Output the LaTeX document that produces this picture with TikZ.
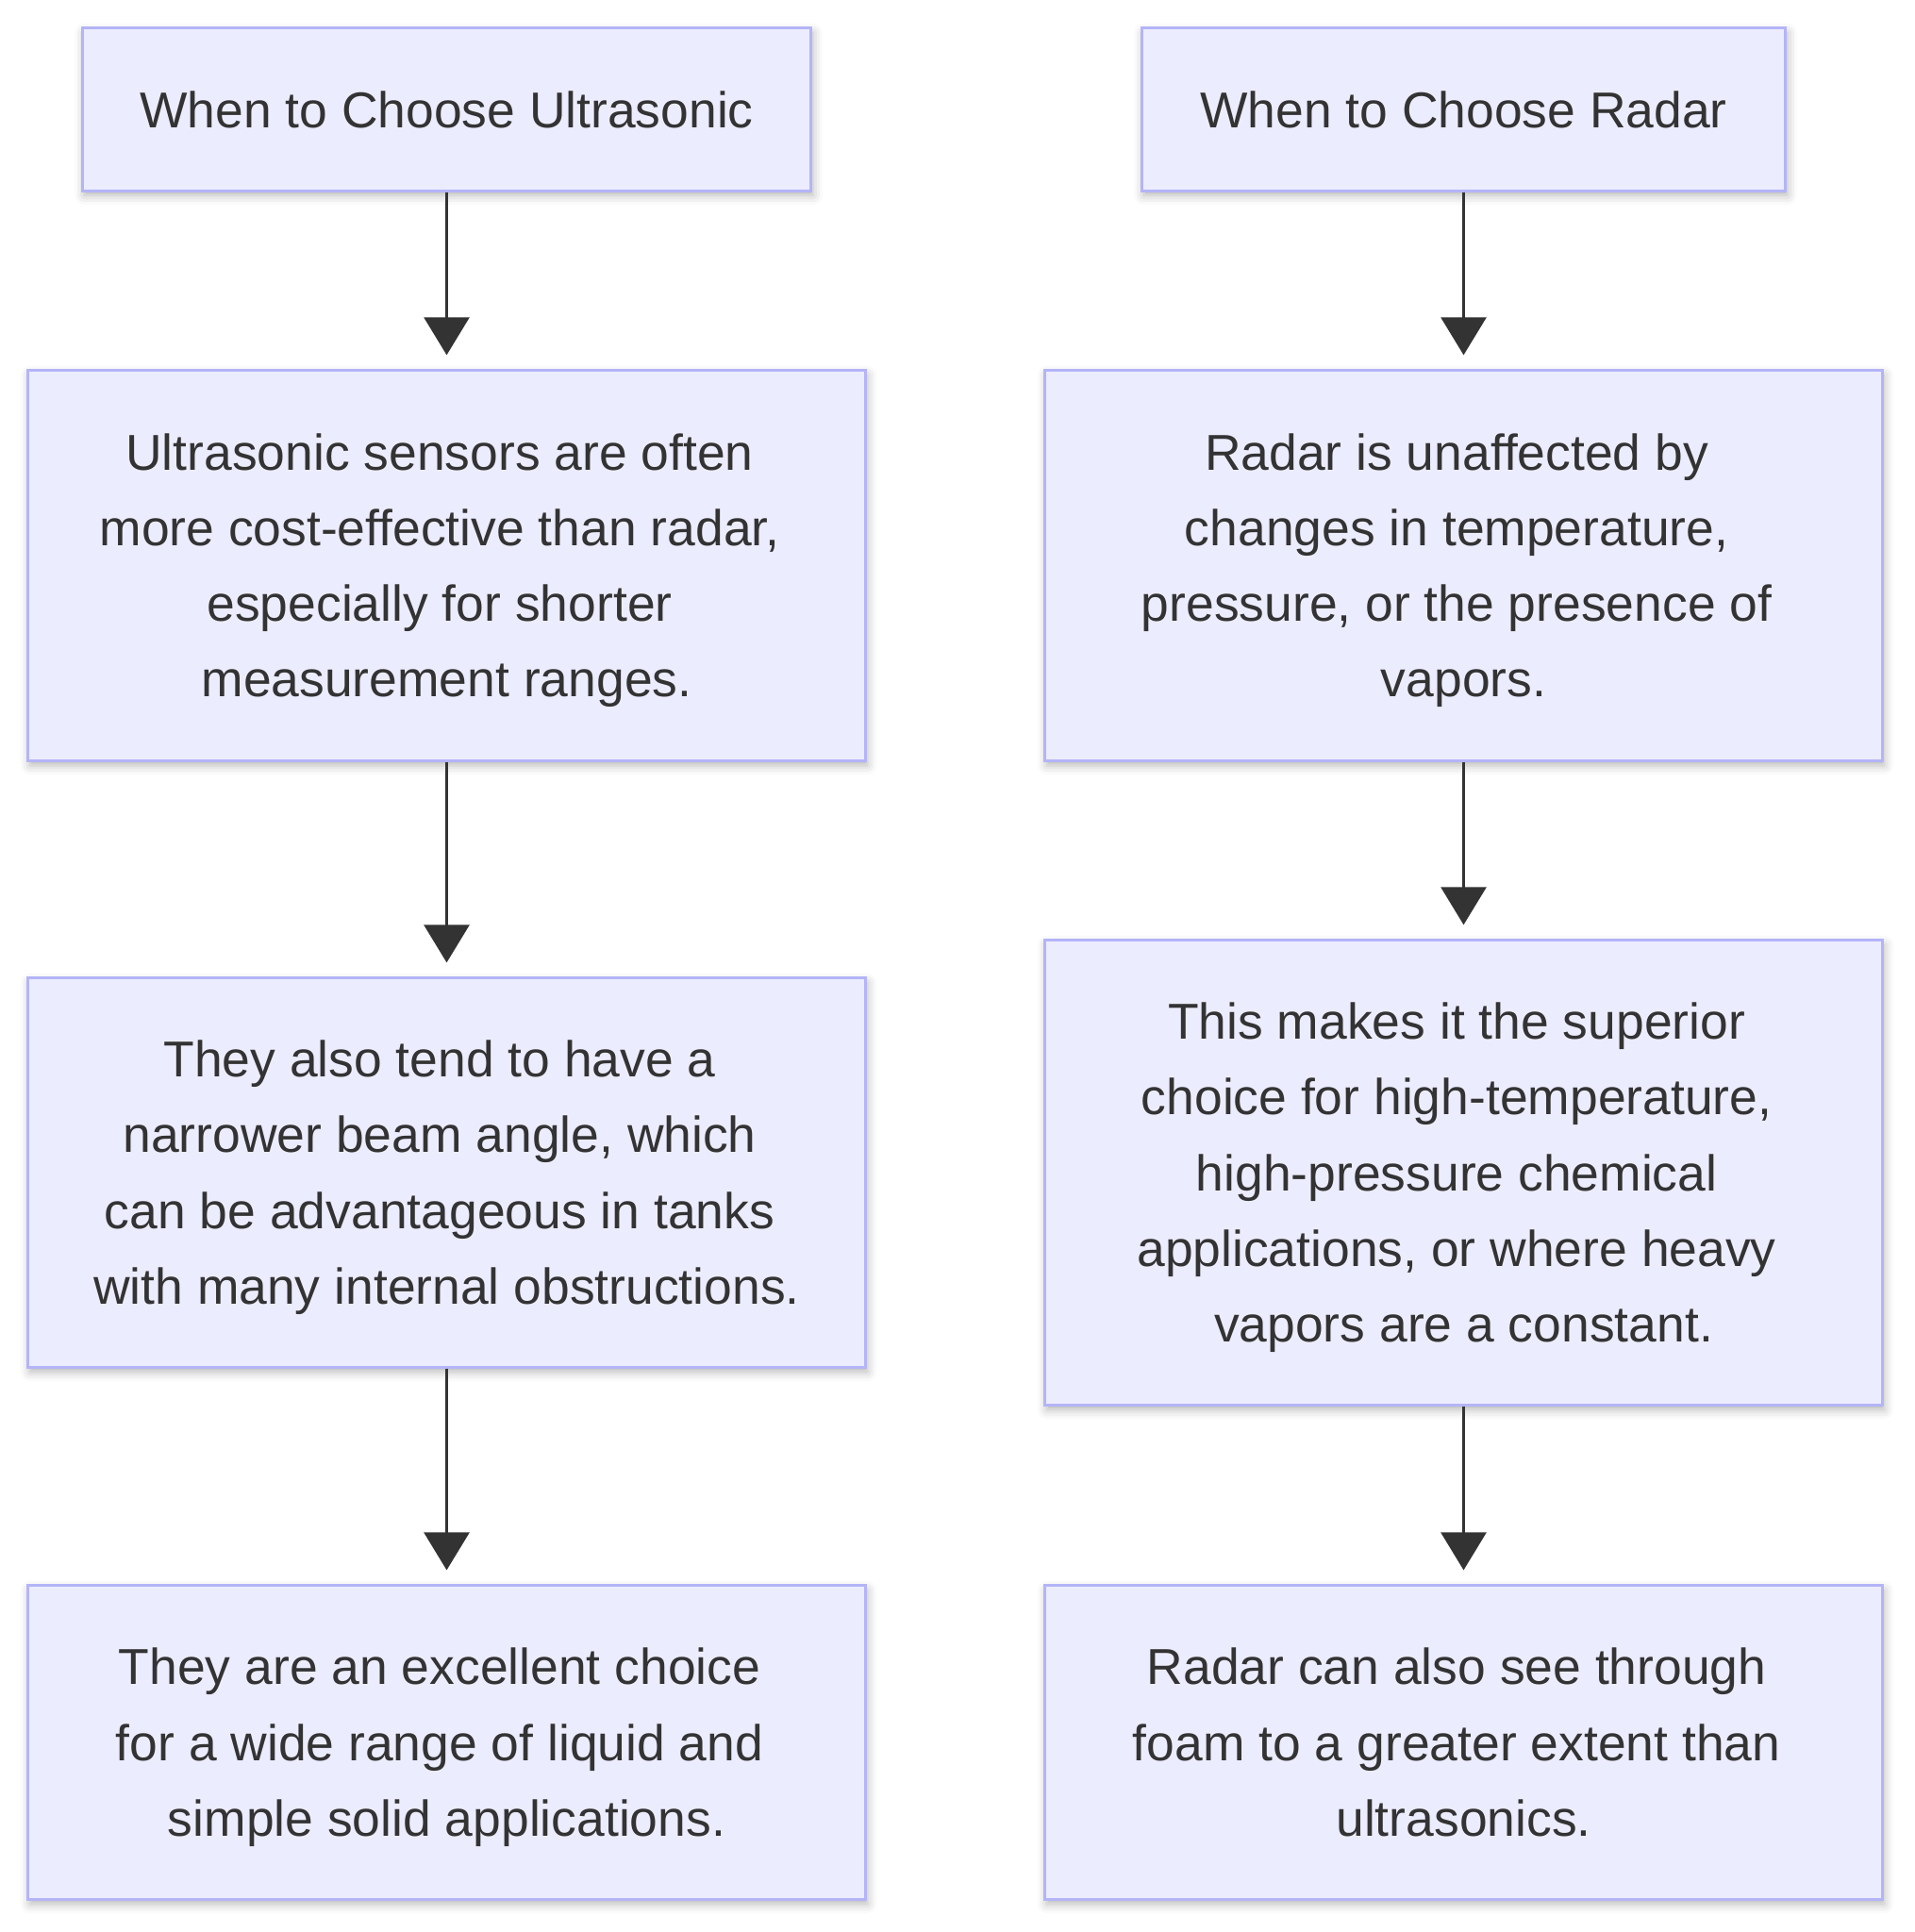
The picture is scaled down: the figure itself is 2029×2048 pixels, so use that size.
\documentclass[tikz,border=0pt]{standalone}
\usepackage{fontspec}
\setmainfont{Liberation Sans}
\usetikzlibrary{arrows.meta, positioning, shadows.blur}
\definecolor{boxfill}{HTML}{ECECFF}
\definecolor{boxline}{HTML}{B4B4F8}
\definecolor{inkcol}{HTML}{333333}
% wrapped lines keep their trailing space
\newcommand{\trail}{\kern\fontdimen2\font}
% fixed height for the first line of a card
\newcommand{\topgap}{\rule{0pt}{0.775\baselineskip}}
\tikzset{
  card/.style={draw=boxline, fill=boxfill, line width=0.03cm, align=center,
    text=inkcol, inner sep=0pt, font=\fontsize{15.2pt}{22.8pt}\selectfont,
    execute at end node=\strut,
    blur shadow={shadow xshift=0.02cm, shadow yshift=-0.05cm,
      shadow blur radius=0.1cm, shadow opacity=30}},
  flow/.style={draw=inkcol, line width=0.027cm,
    -{Triangle[length=0.4cm, width=0.48cm]}, shorten >=0.15cm}
}
\begin{document}
\begin{tikzpicture}[x=0.01cm, y=-0.01cm]
\useasboundingbox (0,0) rectangle (2029,2048);
% ultrasonic column
\node[card, minimum width=7.72cm, minimum height=1.72cm] (usA) at (473.5, 116)
  {\topgap When to Choose Ultrasonic};
\node[card, minimum width=8.87cm, minimum height=4.13cm] (usB) at (473.5, 599.5)
  {\topgap Ultrasonic sensors are often\trail\\ more cost-effective than radar,\trail\\
   especially for shorter\trail\\ measurement ranges.};
\node[card, minimum width=8.87cm, minimum height=4.12cm] (usC) at (473.5, 1243)
  {\topgap They also tend to have a\trail\\ narrower beam angle, which\trail\\
   can be advantageous in tanks\trail\\ with many internal obstructions.};
\node[card, minimum width=8.87cm, minimum height=3.32cm] (usD) at (473.5, 1847)
  {\topgap They are an excellent choice\trail\\ for a wide range of liquid and\trail\\
   simple solid applications.};
% radar column
\node[card, minimum width=6.82cm, minimum height=1.72cm] (rdA) at (1551.5, 116)
  {\topgap When to Choose Radar};
\node[card, minimum width=8.87cm, minimum height=4.13cm] (rdB) at (1551.5, 599.5)
  {\topgap Radar is unaffected by\trail\\ changes in temperature,\trail\\
   pressure, or the presence of\trail\\ vapors.};
\node[card, minimum width=8.87cm, minimum height=4.92cm] (rdC) at (1551.5, 1243)
  {\topgap This makes it the superior\trail\\ choice for high-temperature,\trail\\
   high-pressure chemical\trail\\ applications, or where heavy\trail\\ vapors are a constant.};
\node[card, minimum width=8.87cm, minimum height=3.32cm] (rdD) at (1551.5, 1847)
  {\topgap Radar can also see through\trail\\ foam to a greater extent than\trail\\ ultrasonics.};
\foreach \a/\b in {usA/usB, usB/usC, usC/usD, rdA/rdB, rdB/rdC, rdC/rdD}
  \draw[flow] (\a) -- (\b);
\end{tikzpicture}
\end{document}
